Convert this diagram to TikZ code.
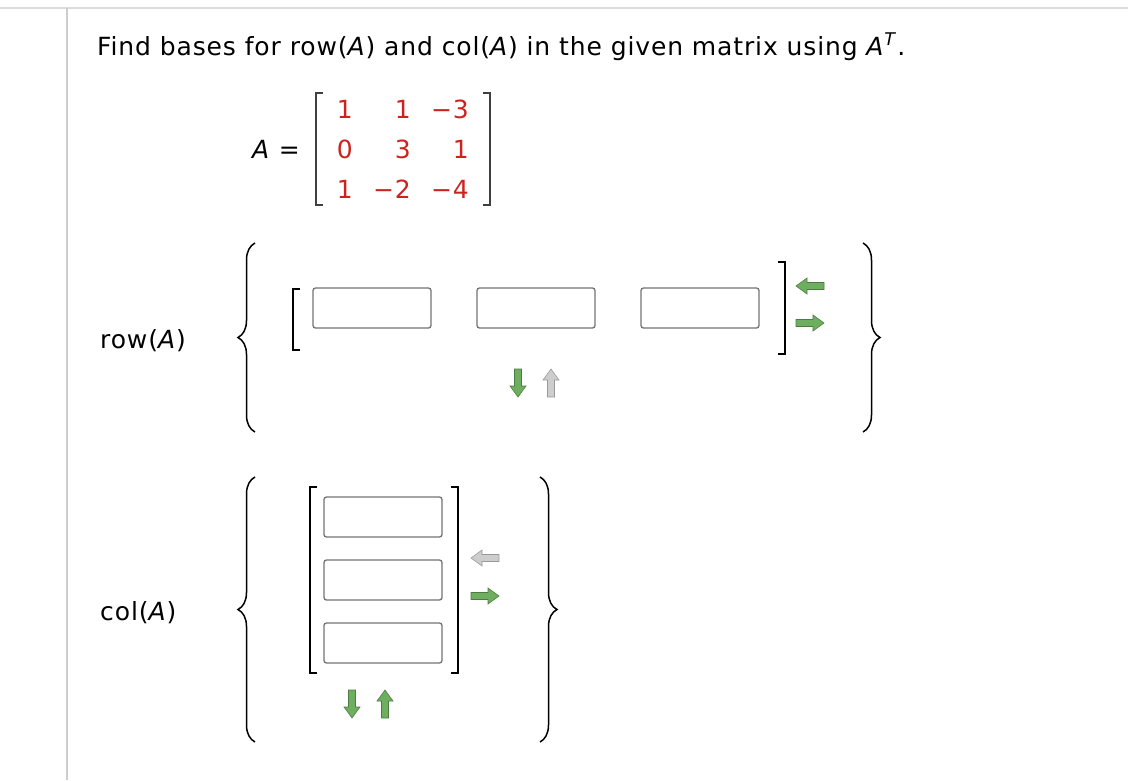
\documentclass[tikz,border=0pt]{standalone}
\usepackage{fontspec}
\setmainfont{DejaVu Sans}[LetterSpace=3.5]
\usetikzlibrary{decorations.pathreplacing}
\definecolor{ent}{RGB}{205,35,30}
\definecolor{gar}{RGB}{110,175,95}
\definecolor{gra}{RGB}{205,205,205}
\tikzset{
 txt/.style={font=\fontsize{25}{28}\selectfont,inner sep=0pt},
 ent/.style={font=\fontsize{25}{28}\selectfont,text=ent,inner sep=0pt,anchor=base east},
 inbox/.style={draw=black!55,line width=1.3pt,rounded corners=2.5pt,minimum width=118pt,minimum height=40pt,inner sep=0pt},
 brk/.style={line width=1.6pt},
 mbrk/.style={line width=1.8pt,draw=black!75},
 brc/.style={line width=1.5pt,decorate,decoration={brace,amplitude=17pt}},
 garr/.style={fill=gar,draw=gar!70!black,line width=0.6pt},
 grarr/.style={fill=gra,draw=gra!75!black,line width=0.6pt}
}
\newcommand\blockarr[4]{% name, position, angle, style
 \coordinate (#1) at (#2);
 \path[#4,shift={(#2)},rotate=#3] (-14,-3.5) -- (3,-3.5) -- (3,-8) -- (14,0) -- (3,8) -- (3,3.5) -- (-14,3.5) -- cycle;}
\begin{document}
\begin{tikzpicture}[x=1pt,y=-1pt]
\useasboundingbox (0,0) rectangle (1128,780);
\draw[gra!70,line width=1.5pt] (0,8) -- (1128,8);
\draw[gra,line width=1.5pt] (67,8) -- (67,780);
\node[txt,anchor=base west] (title) at (97,55) {Find bases for row(\textit{A}) and col(\textit{A}) in the given matrix using \textit{A}\textsuperscript{\textit{T}}.};
% matrix
\node[txt,anchor=base east] (Aeq) at (300,158) {\textit{A} =};
\draw[mbrk] (323,93) -- (316,93) -- (316,205) -- (323,205);
\draw[mbrk] (483,93) -- (490,93) -- (490,205) -- (483,205);
\node[ent] (a11) at (353,118) {1};
\node[ent] (a12) at (411,118) {1};
\node[ent] (a13) at (469,118) {\char"2212 3};
\node[ent] (a21) at (353,158) {0};
\node[ent] (a22) at (411,158) {3};
\node[ent] (a23) at (469,158) {1};
\node[ent] (a31) at (353,198) {1};
\node[ent] (a32) at (411,198) {\char"2212 2};
\node[ent] (a33) at (469,198) {\char"2212 4};
% row(A)
\node[txt,anchor=base west] (rowl) at (100,348) {row(\textit{A})};
\draw[brc] (255,432) -- (255,243);
\draw[brc] (863,243) -- (863,432);
\draw[brk] (300,289) -- (293,289) -- (293,350) -- (300,350);
\draw[brk] (778,262) -- (785,262) -- (785,354) -- (778,354);
\node[inbox] (r1) at (372,308) {};
\node[inbox] (r2) at (536,308) {};
\node[inbox] (r3) at (700,308) {};
\blockarr{rl}{810,286}{180}{garr}
\blockarr{rr}{810,323}{0}{garr}
\blockarr{rd}{518,383}{-90}{garr}
\blockarr{ru}{551,383}{90}{grarr}
% col(A)
\node[txt,anchor=base west] (coll) at (100,620) {col(\textit{A})};
\draw[brc] (255,742) -- (255,477);
\draw[brc] (540,477) -- (540,742);
\draw[brk] (317,487) -- (310,487) -- (310,673) -- (317,673);
\draw[brk] (451,487) -- (458,487) -- (458,673) -- (451,673);
\node[inbox] (c1) at (383,517) {};
\node[inbox] (c2) at (383,580) {};
\node[inbox] (c3) at (383,643) {};
\blockarr{cl}{485,558}{180}{grarr}
\blockarr{cr}{485,596}{0}{garr}
\blockarr{cd}{352,704}{-90}{garr}
\blockarr{cu}{385,704}{90}{garr}
\end{tikzpicture}
\end{document}
